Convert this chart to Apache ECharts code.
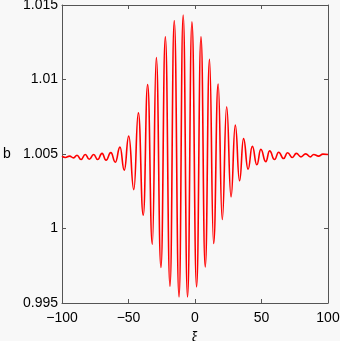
<!DOCTYPE html>
<html>
<head>
<meta charset="utf-8">
<script src="https://cdn.jsdelivr.net/npm/echarts@6/dist/echarts.min.js"></script>
<style>
html,body{margin:0;padding:0;background:#f8f8f8;}
#c{width:340px;height:341px;}
</style>
</head>
<body>
<div id="c"></div>
<script>
// extrema of the curve
var xi = [-100,-97.5,-94.3,-91.3,-88.7,-85.7,-82.5,-79.5,-76.2,-73.2,-69.9,-66.9,-63.3,-59.9,-56.4,-53.2,-49.8,-46.0,-42.6,-38.9,-35.6,-32.1,-29.1,-25.6,-22.3,-18.8,-15.6,-12.0,-8.9,-5.6,-2.3,1.2,4.5,7.7,10.9,14.0,17.4,20.5,23.8,27.1,30.3,33.5,36.5,39.9,43.1,46.5,49.5,53.2,56.1,59.8,62.9,66.6,69.6,73.2,76.2,79.7,83.2,86.7,89.2,92.9,96.2,100];
var b = [1.00486,1.00477,1.00486,1.00474,1.00492,1.00463,1.00497,1.00465,1.00497,1.00463,1.00504,1.00459,1.00509,1.00445,1.00546,1.00392,1.00620,1.00261,1.00776,1.00089,1.00966,0.99894,1.01147,0.99738,1.01287,0.99612,1.01395,0.99540,1.01433,0.99540,1.01387,0.99608,1.01287,0.99742,1.01135,0.99899,1.00969,1.00060,1.00817,1.00212,1.00694,1.00320,1.00603,1.00398,1.00551,1.00428,1.00531,1.00449,1.00521,1.00463,1.00512,1.00470,1.00508,1.00477,1.00504,1.00481,1.00501,1.00481,1.00497,1.00486,1.00499,1.00497];
var xTicks = [-100,-50,0,50,100];
var yTicks = [0.995,1,1.005,1.01,1.015];

var data = xi.map(function(v,i){return [v,b[i]];});
var chart = echarts.init(document.getElementById('c'));
var font = 'Liberation Sans, Arial, sans-serif';
var axisLine = {show:true, onZero:false, lineStyle:{color:'#555', width:1}};
var tick = {show:true, inside:true, length:4, lineStyle:{color:'#555'}};
function fmtY(v){return String(parseFloat(Number(v).toFixed(4)));}
function fmtX(v){var s=String(Math.round(v)); return s.replace('-','\u2212');}
chart.setOption({
  backgroundColor:'#f8f8f8',
  animation:false,
  grid:{left:62,right:12,top:5,bottom:38,containLabel:false,outerBoundsMode:'none'},
  xAxis:[{
    type:'value', min:xTicks[0], max:xTicks[xTicks.length-1], interval:50,
    axisLine:axisLine, axisTick:tick, splitLine:{show:false},
    axisLabel:{color:'#000', fontSize:14, fontFamily:font, margin:8, formatter:fmtX},
    name:'\u03be', nameLocation:'middle', nameGap:28,
    nameTextStyle:{color:'#000', fontSize:14, fontFamily:font}
  },{
    type:'value', position:'top', min:-100, max:100, interval:50,
    axisLine:axisLine, axisTick:tick, axisLabel:{show:false}, splitLine:{show:false}
  }],
  yAxis:[{
    type:'value', min:yTicks[0], max:yTicks[yTicks.length-1], interval:0.005,
    axisLine:axisLine, axisTick:tick, splitLine:{show:false},
    axisLabel:{color:'#000', fontSize:14, fontFamily:font, margin:4, formatter:fmtY},
    name:'b', nameLocation:'middle', nameGap:55, nameRotate:0,
    nameTextStyle:{color:'#000', fontSize:14, fontFamily:font, align:'center', verticalAlign:'middle', padding:[4,0,0,0]}
  },{
    type:'value', position:'right', min:0.995, max:1.015, interval:0.005,
    axisLine:axisLine, axisTick:tick, axisLabel:{show:false}, splitLine:{show:false}
  }],
  series:[{
    type:'line', data:data, showSymbol:false, smooth:0.5, smoothMonotone:'x',
    lineStyle:{color:'#ff0000', width:1.6}, clip:true
  }]
});
</script>
</body>
</html>
